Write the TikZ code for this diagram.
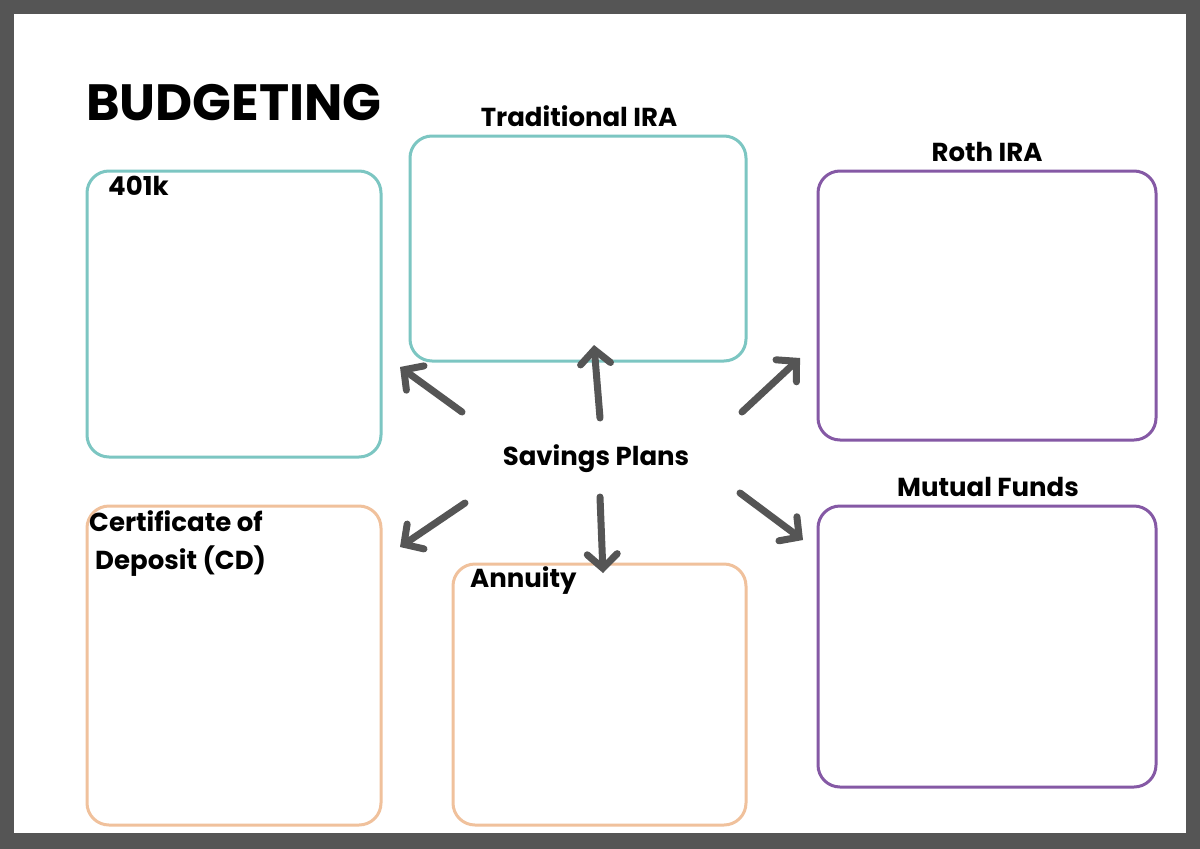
\documentclass[tikz,border=0pt]{standalone}
\usepackage{fontspec}
\setmainfont{Poppins}
\usetikzlibrary{arrows.meta}
\definecolor{teal1}{HTML}{7CC6C2}
\definecolor{purp}{HTML}{8559A5}
\definecolor{peach}{HTML}{F0C19C}
\definecolor{arr}{HTML}{555555}
\begin{document}
\begin{tikzpicture}[x=1pt,y=-1pt,
  box/.style={line width=3pt,rounded corners=22pt},
  lbl/.style={font=\fontsize{26}{30}\selectfont\bfseries,inner sep=0pt},
  arw/.style={draw=arr,line width=7pt,line cap=round,-{Straight Barb[length=14pt,width=30pt,line cap=round]}}]
\fill[arr] (0,0) rectangle (1200,849);
\fill[white] (14,14) rectangle (1186,833);
\useasboundingbox (0,0) rectangle (1200,849);
\draw[box,teal1] (87,171) rectangle (381,457);
\draw[box,teal1] (410,136) rectangle (746,361);
\draw[box,purp] (818,171) rectangle (1156,440);
\draw[box,purp] (818,506) rectangle (1156,787);
\draw[box,peach] (87,506) rectangle (381,825);
\draw[box,peach] (453,564) rectangle (746,825);
\node[lbl,font=\fontsize{51}{58}\selectfont\bfseries,anchor=west] (title) at (86,103) {BUDGETING};
\node[lbl] (trad) at (579,116) {Traditional IRA};
\node[lbl] (roth) at (987,152) {Roth IRA};
\node[lbl] (mut) at (988,487) {Mutual Funds};
\node[lbl,anchor=west] (k) at (108,186) {401k};
\node[lbl,anchor=west] (cd1) at (89,521) {Certificate of};
\node[lbl,anchor=west] (cd2) at (95,561) {Deposit (CD)};
\node[lbl,anchor=west] (ann) at (470,581) {Annuity};
\node[lbl] (sp) at (596,459) {Savings Plans};
\coordinate (a1s) at (462,412); \coordinate (a1e) at (400,367);
\coordinate (a2s) at (600,418); \coordinate (a2e) at (594,345);
\coordinate (a3s) at (742,412); \coordinate (a3e) at (800,358);
\coordinate (a4s) at (465,503); \coordinate (a4e) at (400,547);
\coordinate (a5s) at (600,497); \coordinate (a5e) at (603,573);
\coordinate (a6s) at (740,493); \coordinate (a6e) at (803,540);
\foreach \i in {1,...,6} {\draw[arw] (a\i s) -- (a\i e);}
\end{tikzpicture}
\end{document}
